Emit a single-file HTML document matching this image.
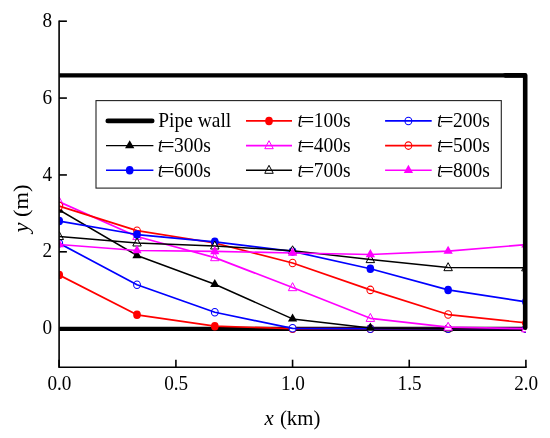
<!DOCTYPE html>
<html><head><meta charset="utf-8"><title>Pipe wall chart</title>
<style>
html,body{margin:0;padding:0;background:#fff;}
body{width:550px;height:438px;overflow:hidden;}
svg{display:block;}
text{font-family:"Liberation Serif",serif;font-size:19.5px;fill:#000;}
.i{font-style:italic;}
.k{font-size:19.2px;}
.t{font-size:20.8px;}
.t2{font-size:21px;}
</style></head><body>
<svg width="550" height="438" viewBox="0 0 550 438">
<rect width="550" height="438" fill="#fff"/>
<defs><clipPath id="plot"><rect x="59.25" y="0" width="466.65" height="400"/></clipPath></defs>

<g clip-path="url(#plot)">
<line x1="54.25" y1="75.35" x2="525.9" y2="75.35" stroke="#000" stroke-width="4.4"/>
<line x1="54.25" y1="328.90" x2="525.9" y2="328.90" stroke="#000" stroke-width="4.2"/>
<ellipse cx="59.25" cy="275.08" rx="3.85" ry="4.25" fill="#ff0000"/>
<ellipse cx="137.02" cy="314.86" rx="3.85" ry="4.25" fill="#ff0000"/>
<ellipse cx="214.80" cy="326.20" rx="3.85" ry="4.25" fill="#ff0000"/>
<ellipse cx="292.57" cy="328.70" rx="3.85" ry="4.25" fill="#ff0000"/>
<ellipse cx="370.35" cy="328.70" rx="3.85" ry="4.25" fill="#ff0000"/>
<ellipse cx="448.12" cy="328.70" rx="3.85" ry="4.25" fill="#ff0000"/>
<ellipse cx="525.90" cy="328.70" rx="3.85" ry="4.25" fill="#ff0000"/>
<polyline points="59.25,275.08 137.02,314.86 214.80,326.20 292.57,328.70 370.35,328.70 448.12,328.70 525.90,328.70" fill="none" stroke="#ff0000" stroke-width="1.7" stroke-linejoin="round"/>
<ellipse cx="59.25" cy="243.37" rx="3.4" ry="3.75" fill="#fff" stroke="#0000ff" stroke-width="1.05"/>
<ellipse cx="137.02" cy="284.69" rx="3.4" ry="3.75" fill="#fff" stroke="#0000ff" stroke-width="1.05"/>
<ellipse cx="214.80" cy="312.29" rx="3.4" ry="3.75" fill="#fff" stroke="#0000ff" stroke-width="1.05"/>
<ellipse cx="292.57" cy="328.32" rx="3.4" ry="3.75" fill="#fff" stroke="#0000ff" stroke-width="1.05"/>
<ellipse cx="370.35" cy="328.70" rx="3.4" ry="3.75" fill="#fff" stroke="#0000ff" stroke-width="1.05"/>
<ellipse cx="448.12" cy="328.70" rx="3.4" ry="3.75" fill="#fff" stroke="#0000ff" stroke-width="1.05"/>
<ellipse cx="525.90" cy="328.70" rx="3.4" ry="3.75" fill="#fff" stroke="#0000ff" stroke-width="1.05"/>
<polyline points="59.25,243.37 137.02,284.69 214.80,312.29 292.57,328.32 370.35,328.70 448.12,328.70 525.90,328.70" fill="none" stroke="#0000ff" stroke-width="1.7" stroke-linejoin="round"/>
<polygon points="59.25,204.53 63.90,212.63 54.60,212.63" fill="#000000"/>
<polygon points="137.02,250.08 141.67,258.18 132.37,258.18" fill="#000000"/>
<polygon points="214.80,278.90 219.45,287.00 210.15,287.00" fill="#000000"/>
<polygon points="292.57,313.50 297.22,321.60 287.93,321.60" fill="#000000"/>
<polygon points="370.35,322.53 375.00,330.63 365.70,330.63" fill="#000000"/>
<polygon points="448.12,323.30 452.77,331.40 443.48,331.40" fill="#000000"/>
<polygon points="525.90,323.30 530.55,331.40 521.25,331.40" fill="#000000"/>
<polyline points="59.25,209.93 137.02,255.48 214.80,284.30 292.57,318.90 370.35,327.93 448.12,328.70 525.90,328.70" fill="none" stroke="#000000" stroke-width="1.5" stroke-linejoin="round"/>
<polygon points="59.25,196.96 63.50,204.96 55.00,204.96" fill="#fff" stroke="#ff00ff" stroke-width="1.0"/>
<polygon points="137.02,231.55 141.27,239.55 132.77,239.55" fill="#fff" stroke="#ff00ff" stroke-width="1.0"/>
<polygon points="214.80,252.69 219.05,260.69 210.55,260.69" fill="#fff" stroke="#ff00ff" stroke-width="1.0"/>
<polygon points="292.57,282.67 296.82,290.67 288.32,290.67" fill="#fff" stroke="#ff00ff" stroke-width="1.0"/>
<polygon points="370.35,313.42 374.60,321.42 366.10,321.42" fill="#fff" stroke="#ff00ff" stroke-width="1.0"/>
<polygon points="448.12,322.26 452.38,330.26 443.88,330.26" fill="#fff" stroke="#ff00ff" stroke-width="1.0"/>
<polygon points="525.90,323.80 530.15,331.80 521.65,331.80" fill="#fff" stroke="#ff00ff" stroke-width="1.0"/>
<polyline points="59.25,201.86 137.02,236.45 214.80,257.59 292.57,287.57 370.35,318.32 448.12,327.16 525.90,328.70" fill="none" stroke="#ff00ff" stroke-width="1.7" stroke-linejoin="round"/>
<ellipse cx="59.25" cy="206.08" rx="3.4" ry="3.75" fill="#fff" stroke="#ff0000" stroke-width="1.05"/>
<ellipse cx="137.02" cy="230.68" rx="3.4" ry="3.75" fill="#fff" stroke="#ff0000" stroke-width="1.05"/>
<ellipse cx="214.80" cy="242.98" rx="3.4" ry="3.75" fill="#fff" stroke="#ff0000" stroke-width="1.05"/>
<ellipse cx="292.57" cy="262.97" rx="3.4" ry="3.75" fill="#fff" stroke="#ff0000" stroke-width="1.05"/>
<ellipse cx="370.35" cy="289.88" rx="3.4" ry="3.75" fill="#fff" stroke="#ff0000" stroke-width="1.05"/>
<ellipse cx="448.12" cy="314.56" rx="3.4" ry="3.75" fill="#fff" stroke="#ff0000" stroke-width="1.05"/>
<ellipse cx="525.90" cy="322.93" rx="3.4" ry="3.75" fill="#fff" stroke="#ff0000" stroke-width="1.05"/>
<polyline points="59.25,206.08 137.02,230.68 214.80,242.98 292.57,262.97 370.35,289.88 448.12,314.56 525.90,322.93" fill="none" stroke="#ff0000" stroke-width="1.7" stroke-linejoin="round"/>
<ellipse cx="59.25" cy="221.07" rx="3.85" ry="4.25" fill="#0000ff"/>
<ellipse cx="137.02" cy="234.53" rx="3.85" ry="4.25" fill="#0000ff"/>
<ellipse cx="214.80" cy="241.83" rx="3.85" ry="4.25" fill="#0000ff"/>
<ellipse cx="292.57" cy="251.44" rx="3.85" ry="4.25" fill="#0000ff"/>
<ellipse cx="370.35" cy="268.74" rx="3.85" ry="4.25" fill="#0000ff"/>
<ellipse cx="448.12" cy="289.88" rx="3.85" ry="4.25" fill="#0000ff"/>
<ellipse cx="525.90" cy="301.79" rx="3.85" ry="4.25" fill="#0000ff"/>
<polyline points="59.25,221.07 137.02,234.53 214.80,241.83 292.57,251.44 370.35,268.74 448.12,289.88 525.90,301.79" fill="none" stroke="#0000ff" stroke-width="1.7" stroke-linejoin="round"/>
<polygon points="59.25,231.55 63.50,239.55 55.00,239.55" fill="#fff" stroke="#000000" stroke-width="1.0"/>
<polygon points="137.02,238.01 141.27,246.01 132.77,246.01" fill="#fff" stroke="#000000" stroke-width="1.0"/>
<polygon points="214.80,241.01 219.05,249.01 210.55,249.01" fill="#fff" stroke="#000000" stroke-width="1.0"/>
<polygon points="292.57,245.77 296.82,253.77 288.32,253.77" fill="#fff" stroke="#000000" stroke-width="1.0"/>
<polygon points="370.35,254.61 374.60,262.61 366.10,262.61" fill="#fff" stroke="#000000" stroke-width="1.0"/>
<polygon points="448.12,262.68 452.38,270.68 443.88,270.68" fill="#fff" stroke="#000000" stroke-width="1.0"/>
<polygon points="525.90,262.88 530.15,270.88 521.65,270.88" fill="#fff" stroke="#000000" stroke-width="1.0"/>
<polyline points="59.25,236.45 137.02,242.91 214.80,245.91 292.57,250.67 370.35,259.51 448.12,267.58 525.90,267.78" fill="none" stroke="#000000" stroke-width="1.5" stroke-linejoin="round"/>
<polygon points="59.25,239.12 63.90,247.22 54.60,247.22" fill="#ff00ff"/>
<polygon points="137.02,245.08 141.67,253.18 132.37,253.18" fill="#ff00ff"/>
<polygon points="214.80,246.04 219.45,254.14 210.15,254.14" fill="#ff00ff"/>
<polygon points="292.57,247.58 297.22,255.68 287.93,255.68" fill="#ff00ff"/>
<polygon points="370.35,249.12 375.00,257.22 365.70,257.22" fill="#ff00ff"/>
<polygon points="448.12,245.66 452.77,253.76 443.48,253.76" fill="#ff00ff"/>
<polygon points="525.90,239.31 530.55,247.41 521.25,247.41" fill="#ff00ff"/>
<polyline points="59.25,244.52 137.02,250.48 214.80,251.44 292.57,252.98 370.35,254.52 448.12,251.06 525.90,244.71" fill="none" stroke="#ff00ff" stroke-width="1.7" stroke-linejoin="round"/>
</g>
<path d="M505.20,75.35 L525.20,75.35 L525.20,327.70" fill="none" stroke="#000" stroke-width="4.6" stroke-linejoin="round" stroke-linecap="round"/>
<path d="M59.10,20.40 L59.10,367.30 L526.70,367.30" fill="none" stroke="#000" stroke-width="1.6" stroke-linecap="butt" stroke-linejoin="miter"/>
<line x1="59.10" y1="328.70" x2="66.90" y2="328.70" stroke="#000" stroke-width="1.6"/>
<text transform="translate(52.00,334.30) scale(1,1.1)" text-anchor="end" class="k">0</text>
<line x1="59.10" y1="251.82" x2="66.90" y2="251.82" stroke="#000" stroke-width="1.6"/>
<text transform="translate(52.00,257.43) scale(1,1.1)" text-anchor="end" class="k">2</text>
<line x1="59.10" y1="174.95" x2="66.90" y2="174.95" stroke="#000" stroke-width="1.6"/>
<text transform="translate(52.00,180.55) scale(1,1.1)" text-anchor="end" class="k">4</text>
<line x1="59.10" y1="98.07" x2="66.90" y2="98.07" stroke="#000" stroke-width="1.6"/>
<text transform="translate(52.00,103.67) scale(1,1.1)" text-anchor="end" class="k">6</text>
<line x1="59.10" y1="21.20" x2="66.90" y2="21.20" stroke="#000" stroke-width="1.6"/>
<text transform="translate(52.00,26.80) scale(1,1.1)" text-anchor="end" class="k">8</text>
<line x1="59.10" y1="367.30" x2="59.10" y2="359.70" stroke="#000" stroke-width="1.6"/>
<text transform="translate(59.40,390.40) scale(1,1.1)" text-anchor="middle" class="k">0.0</text>
<line x1="175.91" y1="367.30" x2="175.91" y2="359.70" stroke="#000" stroke-width="1.6"/>
<text transform="translate(176.21,390.40) scale(1,1.1)" text-anchor="middle" class="k">0.5</text>
<line x1="292.57" y1="367.30" x2="292.57" y2="359.70" stroke="#000" stroke-width="1.6"/>
<text transform="translate(292.88,390.40) scale(1,1.1)" text-anchor="middle" class="k">1.0</text>
<line x1="409.24" y1="367.30" x2="409.24" y2="359.70" stroke="#000" stroke-width="1.6"/>
<text transform="translate(409.54,390.40) scale(1,1.1)" text-anchor="middle" class="k">1.5</text>
<line x1="525.90" y1="367.30" x2="525.90" y2="359.70" stroke="#000" stroke-width="1.6"/>
<text transform="translate(526.20,390.40) scale(1,1.1)" text-anchor="middle" class="k">2.0</text>
<text transform="translate(264.50,425.00) scale(1,1.03)" class="t i">x</text>
<text transform="translate(279.90,425.00) scale(1,1.03)" class="t">(km)</text>
<g transform="translate(28.3,234.4) rotate(-90)">
<text transform="translate(2.00,0.00) scale(1.07,1)" class="t2 i">y</text>
<text transform="translate(17.40,0.00) scale(1.07,1)" class="t2">(m)</text>
</g>
<rect x="96" y="100.6" width="405.3" height="87.5" fill="#fff" stroke="#222" stroke-width="1.1"/>
<line x1="107.8" y1="120.9" x2="152.2" y2="120.9" stroke="#000" stroke-width="4.7" stroke-linecap="round"/>
<text transform="translate(158.20,127.30) scale(1,1.09)">Pipe wall</text>
<ellipse cx="269.00" cy="120.90" rx="3.85" ry="4.25" fill="#ff0000"/>
<line x1="246" y1="120.9" x2="292" y2="120.9" stroke="#ff0000" stroke-width="1.60"/>
<text transform="translate(297.50,127.40) scale(1,1.09)" class="i">t</text>
<text transform="translate(300.40,127.40) scale(1.26,1.09)">=</text>
<text transform="translate(313.70,127.40) scale(1,1.09)">100s</text>
<ellipse cx="408.40" cy="120.90" rx="3.4" ry="3.75" fill="#fff" stroke="#0000ff" stroke-width="1.05"/>
<line x1="385.1" y1="120.9" x2="431.7" y2="120.9" stroke="#0000ff" stroke-width="1.60"/>
<text transform="translate(436.90,127.40) scale(1,1.09)" class="i">t</text>
<text transform="translate(439.80,127.40) scale(1.26,1.09)">=</text>
<text transform="translate(453.10,127.40) scale(1,1.09)">200s</text>
<polygon points="129.70,140.20 134.35,148.30 125.05,148.30" fill="#000000"/>
<line x1="106" y1="145.6" x2="153.4" y2="145.6" stroke="#000000" stroke-width="1.40"/>
<text transform="translate(157.80,152.40) scale(1,1.09)" class="i">t</text>
<text transform="translate(160.70,152.40) scale(1.26,1.09)">=</text>
<text transform="translate(174.00,152.40) scale(1,1.09)">300s</text>
<polygon points="269.00,140.70 273.25,148.70 264.75,148.70" fill="#fff" stroke="#ff00ff" stroke-width="1.0"/>
<line x1="246" y1="145.6" x2="292" y2="145.6" stroke="#ff00ff" stroke-width="1.60"/>
<text transform="translate(297.50,152.40) scale(1,1.09)" class="i">t</text>
<text transform="translate(300.40,152.40) scale(1.26,1.09)">=</text>
<text transform="translate(313.70,152.40) scale(1,1.09)">400s</text>
<ellipse cx="408.40" cy="145.60" rx="3.4" ry="3.75" fill="#fff" stroke="#ff0000" stroke-width="1.05"/>
<line x1="385.1" y1="145.6" x2="431.7" y2="145.6" stroke="#ff0000" stroke-width="1.60"/>
<text transform="translate(436.90,152.40) scale(1,1.09)" class="i">t</text>
<text transform="translate(439.80,152.40) scale(1.26,1.09)">=</text>
<text transform="translate(453.10,152.40) scale(1,1.09)">500s</text>
<ellipse cx="129.70" cy="170.20" rx="3.85" ry="4.25" fill="#0000ff"/>
<line x1="106" y1="170.2" x2="153.4" y2="170.2" stroke="#0000ff" stroke-width="1.60"/>
<text transform="translate(157.80,177.10) scale(1,1.09)" class="i">t</text>
<text transform="translate(160.70,177.10) scale(1.26,1.09)">=</text>
<text transform="translate(174.00,177.10) scale(1,1.09)">600s</text>
<polygon points="269.00,165.30 273.25,173.30 264.75,173.30" fill="#fff" stroke="#000000" stroke-width="1.0"/>
<line x1="246" y1="170.2" x2="292" y2="170.2" stroke="#000000" stroke-width="1.40"/>
<text transform="translate(297.50,177.10) scale(1,1.09)" class="i">t</text>
<text transform="translate(300.40,177.10) scale(1.26,1.09)">=</text>
<text transform="translate(313.70,177.10) scale(1,1.09)">700s</text>
<polygon points="408.40,164.80 413.05,172.90 403.75,172.90" fill="#ff00ff"/>
<line x1="385.1" y1="170.2" x2="431.7" y2="170.2" stroke="#ff00ff" stroke-width="1.60"/>
<text transform="translate(436.90,177.10) scale(1,1.09)" class="i">t</text>
<text transform="translate(439.80,177.10) scale(1.26,1.09)">=</text>
<text transform="translate(453.10,177.10) scale(1,1.09)">800s</text>
</svg></body></html>
